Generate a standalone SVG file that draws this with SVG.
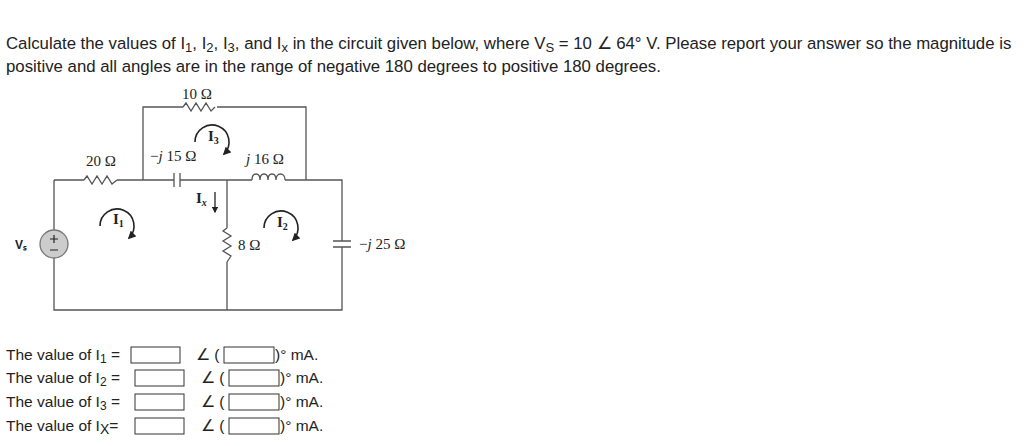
<svg xmlns="http://www.w3.org/2000/svg" width="1024" height="446" viewBox="0 0 1024 446">
<style>
.t{font-family:"Liberation Sans",Arial,sans-serif;font-size:15.5px;fill:#222}
.h{font-family:"Liberation Sans",Arial,sans-serif;font-size:16.8px;fill:#222}
.c{font-family:"Liberation Serif","Times New Roman",serif;font-size:15px;fill:#222}
.w{fill:none;stroke:#555;stroke-width:1.3}
.b{fill:#fff;stroke:#333;stroke-width:1}
.lp{fill:none;stroke:#222;stroke-width:1.6}
</style>
<defs><marker id="ah" viewBox="0 0 10 10" refX="8" refY="5" markerWidth="5" markerHeight="5" orient="auto"><path d="M0,0L10,5L0,10z" fill="#222"/></marker></defs>
<rect width="1024" height="446" fill="#fff"/>
<text class="h" x="6" y="49">Calculate the values of I<tspan font-size="13" dy="3">1</tspan><tspan dy="-3">, I</tspan><tspan font-size="13" dy="3">2</tspan><tspan dy="-3">, I</tspan><tspan font-size="13" dy="3">3</tspan><tspan dy="-3">, and I</tspan><tspan font-size="13" dy="3">x</tspan><tspan dy="-3"> in the circuit given below, where V</tspan><tspan font-size="13" dy="3">S</tspan><tspan dy="-3"> = 10 ∠ 64° V. Please report your answer so the magnitude is</tspan></text>
<text class="h" x="6" y="72">positive and all angles are in the range of negative 180 degrees to positive 180 degrees.</text>
<g id="connectors">
<path class="w" d="M143,180V107H183M217,107H306V180M54,180H84M117,180H174M180,180H252M285,180H342V241M342,247V310H54V258M54,230V180M227,180V228M227,262V310"/>
</g>
<g id="r10"><path class="w" d="M183,107l3,-4l5,8l5,-8l5,8l5,-8l5,8l4,-4"/><text class="c" x="182" y="99">10 Ω</text></g>
<g id="r20"><path class="w" d="M84,180l3,-4l5,8l5,-8l5,8l5,-8l5,8l5,-4"/><text class="c" x="86" y="166">20 Ω</text></g>
<g id="c15"><path class="w" d="M174,173v14M180,173v14"/><text class="c" x="150" y="161">−<tspan font-style="italic">j</tspan> 15 Ω</text></g>
<g id="l16"><path class="w" d="M252,180c0,-8 8,-8 8,0c0,-8 8,-8 8,0c0,-8 8,-8 8,0c0,-8 9,-8 9,0"/><text class="c" x="246" y="164"><tspan font-style="italic">j</tspan> 16 Ω</text></g>
<g id="c25"><path class="w" d="M333,241h18M333,247h18"/><text class="c" x="359" y="249">−<tspan font-style="italic">j</tspan> 25 Ω</text></g>
<g id="r8"><path class="w" d="M227,228l-4,3l8,5l-8,5l8,5l-8,5l8,5l-4,6"/><text class="c" x="238" y="250">8 Ω</text></g>
<g id="vs"><circle cx="54" cy="244" r="14" fill="#ccc" stroke="#777" stroke-width="1.3"/><path d="M50,239h8M54,235v8M50,250h8" stroke="#222" stroke-width="1.2"/><text x="15" y="249" font-family="Liberation Sans,sans-serif" font-size="12" font-weight="bold" fill="#222">Vₛ</text></g>
<g id="ix"><path d="M215,192V212" stroke="#222" stroke-width="1.3" marker-end="url(#ah)"/><text class="c" x="196" y="203" font-weight="bold">I<tspan font-size="10" dy="3" font-style="italic">x</tspan></text></g>
<g id="i1"><path class="lp" d="M100,226a17,17 0 1 1 29,12" marker-end="url(#ah)"/><text class="c" x="113" y="224" font-weight="bold">I<tspan font-size="10" dy="3">1</tspan></text></g>
<g id="i2"><path class="lp" d="M264,228a17,17 0 1 1 29,12" marker-end="url(#ah)"/><text class="c" x="277" y="227" font-weight="bold">I<tspan font-size="10" dy="3">2</tspan></text></g>
<g id="i3"><path class="lp" d="M195,142a17,17 0 1 1 29,12" marker-end="url(#ah)"/><text class="c" x="208" y="141" font-weight="bold">I<tspan font-size="10" dy="3">3</tspan></text></g>
<g id="answers">
<text class="t" x="6" y="360">The value of I<tspan font-size="12" dy="3">1</tspan><tspan dy="-3"> =</tspan></text>
<rect class="b" x="131" y="347" width="49" height="16"/><text class="t" x="196" y="360">∠ (</text><rect class="b" x="224" y="347" width="50" height="16"/><text class="t" x="275" y="360">)° mA.</text>
<text class="t" x="6" y="383">The value of I<tspan font-size="12" dy="3">2</tspan><tspan dy="-3"> =</tspan></text>
<rect class="b" x="135" y="370" width="49" height="16"/><text class="t" x="201" y="383">∠ (</text><rect class="b" x="229" y="370" width="50" height="16"/><text class="t" x="280" y="383">)° mA.</text>
<text class="t" x="6" y="407">The value of I<tspan font-size="12" dy="3">3</tspan><tspan dy="-3"> =</tspan></text>
<rect class="b" x="135" y="394" width="49" height="16"/><text class="t" x="201" y="407">∠ (</text><rect class="b" x="229" y="394" width="50" height="16"/><text class="t" x="280" y="407">)° mA.</text>
<text class="t" x="6" y="431">The value of I<tspan font-size="14" dy="3">X</tspan><tspan dy="-3">=</tspan></text>
<rect class="b" x="135" y="418" width="49" height="16"/><text class="t" x="201" y="431">∠ (</text><rect class="b" x="229" y="418" width="50" height="16"/><text class="t" x="280" y="431">)° mA.</text>
</g>
</svg>
